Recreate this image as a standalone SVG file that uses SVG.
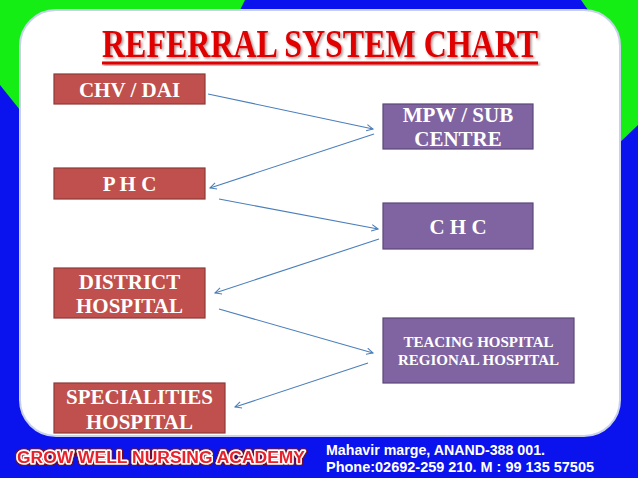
<svg xmlns="http://www.w3.org/2000/svg" width="638" height="478" viewBox="0 0 638 478">
<defs>
<style>
.red{fill:#c0504d;stroke:#8c3a38;stroke-width:1.2}
.pur{fill:#8064a2;stroke:#5b4777;stroke-width:1.2}
.nt{font-family:"Liberation Serif","Times New Roman",serif;font-weight:bold;fill:#ffffff;text-anchor:middle;font-size:21px}
.sm{font-size:15px}
.conn{stroke:#4a7ebb;stroke-width:1.1;fill:none;marker-end:url(#ah)}
.addr{font-family:"Liberation Sans",Arial,sans-serif;font-weight:bold;fill:#ffffff;font-size:14px}
</style>
<marker id="ah" viewBox="0 0 10 10" refX="9" refY="5" markerWidth="8" markerHeight="8" markerUnits="userSpaceOnUse" orient="auto">
<path d="M1,1 L9,5 L1,9" fill="none" stroke="#4a7ebb" stroke-width="1.3"/>
</marker>
<filter id="shadow" x="-5%" y="-20%" width="110%" height="150%">
<feDropShadow dx="1.5" dy="1.5" stdDeviation="0.8" flood-color="#400000" flood-opacity="0.45"/>
</filter>
<filter id="outline" x="-5%" y="-30%" width="110%" height="160%">
<feMorphology in="SourceAlpha" operator="dilate" radius="1.2" result="d"/>
<feFlood flood-color="#7a1020"/>
<feComposite in2="d" operator="in" result="o"/>
<feMerge><feMergeNode in="o"/><feMergeNode in="SourceGraphic"/></feMerge>
</filter>
</defs>
<g id="background">
<rect x="0" y="0" width="638" height="478" fill="#0a12ee"/>
<polygon points="0,0 245,0 235,20 40,135 0,85" fill="#14ee14"/>
<polygon points="581,0 638,0 638,125 615,147 595,20" fill="#14ee14"/>
<rect x="20" y="10" width="600" height="426" rx="36" ry="36" fill="#ffffff" stroke="#c9d2ea" stroke-width="2"/>
</g>
<g id="title">
<text x="320" y="57" font-family="Liberation Serif,'Times New Roman',serif" font-weight="bold" font-size="39" fill="#e00000" textLength="436" lengthAdjust="spacingAndGlyphs" text-anchor="middle" filter="url(#shadow)">REFERRAL SYSTEM CHART</text>
<rect x="102" y="61.5" width="436" height="3" fill="#e00000" filter="url(#shadow)"/>
</g>
<g id="connectors">
<line class="conn" x1="208" y1="94" x2="373" y2="129"/>
<line class="conn" x1="374" y1="134" x2="210" y2="188"/>
<line class="conn" x1="219" y1="199" x2="378" y2="229"/>
<line class="conn" x1="379" y1="239" x2="215" y2="293"/>
<line class="conn" x1="219" y1="309" x2="373" y2="353"/>
<line class="conn" x1="368" y1="363" x2="235" y2="407"/>
</g>
<g id="node-chv">
<rect class="red" x="54" y="74" width="151" height="30"/>
<text class="nt" x="129.5" y="97">CHV / DAI</text>
</g>
<g id="node-mpw">
<rect class="pur" x="383" y="104" width="150" height="45"/>
<text class="nt" x="458" y="122">MPW / SUB</text>
<text class="nt" x="458" y="146">CENTRE</text>
</g>
<g id="node-phc">
<rect class="red" x="54" y="168" width="151" height="31"/>
<text class="nt" x="129.5" y="191">P H C</text>
</g>
<g id="node-chc">
<rect class="pur" x="383" y="203" width="150" height="46"/>
<text class="nt" x="458" y="234">C H C</text>
</g>
<g id="node-district">
<rect class="red" x="54" y="268" width="151" height="50"/>
<text class="nt" x="129.5" y="289">DISTRICT</text>
<text class="nt" x="129.5" y="312.5">HOSPITAL</text>
</g>
<g id="node-teaching">
<rect class="pur" x="383" y="318" width="191" height="65"/>
<text class="nt sm" x="478.5" y="347">TEACING HOSPITAL</text>
<text class="nt sm" x="478.5" y="365">REGIONAL HOSPITAL</text>
</g>
<g id="node-specialities">
<rect class="red" x="54" y="383" width="171" height="50"/>
<text class="nt" x="139.5" y="404">SPECIALITIES</text>
<text class="nt" x="139.5" y="429">HOSPITAL</text>
</g>
<g id="footer">
<text x="17" y="463" font-family="'Liberation Sans',Arial,sans-serif" font-weight="bold" font-size="17.4" textLength="288" lengthAdjust="spacingAndGlyphs" fill="#e8202c" stroke="#ffffff" stroke-width="3" stroke-linejoin="round" paint-order="stroke" filter="url(#outline)">GROW WELL NURSING ACADEMY</text>
<text class="addr" x="326" y="454.5" textLength="219" lengthAdjust="spacingAndGlyphs">Mahavir marge, ANAND-388 001.</text>
<text class="addr" x="326" y="471.5" textLength="268" lengthAdjust="spacingAndGlyphs">Phone:02692-259 210. M : 99 135 57505</text>
</g>
</svg>
